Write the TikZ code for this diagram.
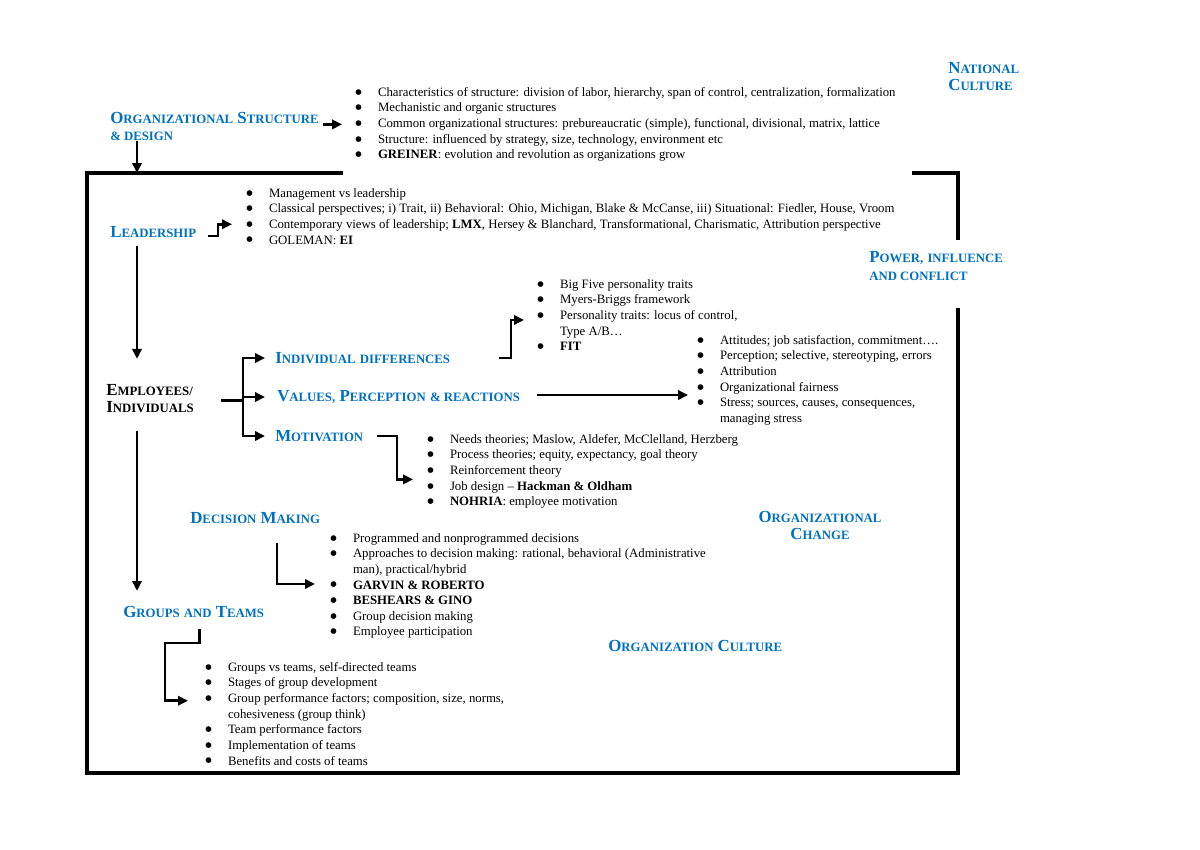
\documentclass[tikz,border=0pt]{standalone}
\usepackage{fontspec}
\setmainfont{Liberation Serif}
\newfontfamily\symfont{DejaVu Sans}
\usepackage{xcolor}
\usetikzlibrary{arrows.meta, calc, positioning}

\definecolor{headblue}{HTML}{0070C0}

% fake small caps for the headings
\newcommand{\hcap}[2]{{\fontsize{11.9}{12}\selectfont #1}{\fontsize{9}{12}\selectfont #2}}
\newcommand{\hsm}[1]{{\fontsize{9}{12}\selectfont #1}}
% bullet lines
\newcommand{\bitem}{\makebox[16pt][l]{\raisebox{1.5pt}{\symfont\fontsize{5.2}{11}\selectfont ●}}}
\newcommand{\bcont}{\hspace*{16pt}}

\begin{document}
\begin{tikzpicture}[
    x=0.02475cm, y=-0.02475cm,
    font=\fontsize{9}{11}\selectfont,
    >={Triangle[length=7pt,width=6.5pt]}
]
    % Styles
    \tikzstyle{heading} = [text=headblue, font=\fontsize{11.9}{12}\selectfont\bfseries, inner sep=0pt, align=left, anchor=west]
    \tikzstyle{bullets} = [inner sep=0pt, align=left, anchor=north west]
    \tikzstyle{link} = [line width=1.8pt]
    \tikzstyle{frame} = [line width=2.2pt]

    \useasboundingbox (0,0) rectangle (1200,849);

    % Headings
    \node [heading] (orgstruct) at (110,126.5) {\hcap{O}{RGANIZATIONAL} \hcap{S}{TRUCTURE}\\\hsm{\& DESIGN}};
    \node [heading] (natcult) at (948,77) {\hcap{N}{ATIONAL}\\\hcap{C}{ULTURE}};
    \node [heading] (leader) at (110,232) {\hcap{L}{EADERSHIP}};
    \node [heading] (power) at (869,266) {\hcap{P}{OWER,} \hsm{INFLUENCE}\\\hsm{AND CONFLICT}};
    \node [heading, text=black] (emp) at (106,398.5) {\hcap{E}{MPLOYEES/}\\\hcap{I}{NDIVIDUALS}};
    \node [heading] (inddiff) at (275,358) {\hcap{I}{NDIVIDUAL} \hsm{DIFFERENCES}};
    \node [heading] (values) at (277,397) {\hcap{V}{ALUES,} \hcap{P}{ERCEPTION} \hsm{\& REACTIONS}};
    \node [heading] (motiv) at (275,436) {\hcap{M}{OTIVATION}};
    \node [heading] (decision) at (190,518) {\hcap{D}{ECISION} \hcap{M}{AKING}};
    \node [heading, align=center, anchor=center] (orgchange) at (820,525.5) {\hcap{O}{RGANIZATIONAL}\\\hcap{C}{HANGE}};
    \node [heading] (groups) at (123,612) {\hcap{G}{ROUPS} \hsm{AND} \hcap{T}{EAMS}};
    \node [heading] (orgcult) at (608,646) {\hcap{O}{RGANIZATION} \hcap{C}{ULTURE}};

    % Bullet lists
    \node [bullets] (listA) at (355,87) {%
        \bitem Characteristics of structure: division of labor, hierarchy, span of control, centralization, formalization\\
        \bitem Mechanistic and organic structures\\
        \bitem Common organizational structures: prebureaucratic (simple), functional, divisional, matrix, lattice\\
        \bitem Structure: influenced by strategy, size, technology, environment etc\\
        \bitem \textbf{GREINER}: evolution and revolution as organizations grow};
    \node [bullets] (listB) at (246,188) {%
        \bitem Management vs leadership\\
        \bitem Classical perspectives; i) Trait, ii) Behavioral: Ohio, Michigan, Blake \& McCanse, iii) Situational: Fiedler, House, Vroom\\
        \bitem Contemporary views of leadership; \textbf{LMX}, Hersey \& Blanchard, Transformational, Charismatic, Attribution perspective\\
        \bitem GOLEMAN: \textbf{EI}};
    \node [bullets] (listC) at (537,279) {%
        \bitem Big Five personality traits\\
        \bitem Myers-Briggs framework\\
        \bitem Personality traits: locus of control,\\
        \bcont Type A/B\ldots\\
        \bitem \textbf{FIT}};
    \node [bullets] (listD) at (697,335) {%
        \bitem Attitudes; job satisfaction, commitment\ldots.\\
        \bitem Perception; selective, stereotyping, errors\\
        \bitem Attribution\\
        \bitem Organizational fairness\\
        \bitem Stress; sources, causes, consequences,\\
        \bcont managing stress};
    \node [bullets] (listE) at (427,434) {%
        \bitem Needs theories; Maslow, Aldefer, McClelland, Herzberg\\
        \bitem Process theories; equity, expectancy, goal theory\\
        \bitem Reinforcement theory\\
        \bitem Job design -- \textbf{Hackman \& Oldham}\\
        \bitem \textbf{NOHRIA}: employee motivation};
    \node [bullets] (listF) at (330,533) {%
        \bitem Programmed and nonprogrammed decisions\\
        \bitem Approaches to decision making: rational, behavioral (Administrative\\
        \bcont man), practical/hybrid\\
        \bitem \textbf{GARVIN \& ROBERTO}\\
        \bitem \textbf{BESHEARS \& GINO}\\
        \bitem Group decision making\\
        \bitem Employee participation};
    \node [bullets] (listG) at (205,662) {%
        \bitem Groups vs teams, self-directed teams\\
        \bitem Stages of group development\\
        \bitem Group performance factors; composition, size, norms,\\
        \bcont cohesiveness (group think)\\
        \bitem Team performance factors\\
        \bitem Implementation of teams\\
        \bitem Benefits and costs of teams};

    % Frame
    \coordinate (spine) at (137,173);
    \draw [frame] (343,173) -- (87,173) -- (87,773) -- (958,773) -- (958,308);
    \draw [frame] (912,173) -- (958,173) -- (958,240);

    % Connections
    \draw [link,->] ($(orgstruct.east |- listA.west)+(4,0)$) -- ($(listA.west)+(-13,0)$);
    \draw [link,->] (orgstruct.south -| spine) -- (spine);
    \draw [link,->] ($(leader.east)+(12,4)$) -| ($(listB.west)+(-28,8)$) -- ($(listB.west)+(-14,8)$);
    \draw [link,->] ($(leader.south -| spine)+(0,8)$) -- ++(0,113);
    \draw [link,->] ($(emp.south -| spine)+(0,18)$) -- ++(0,160);

    % Employees fork
    \coordinate (fork) at ($(emp.east)+(49,2)$);
    \draw [link] ($(emp.east)+(27,2)$) -- (fork);
    \draw [link,->] (fork) |- ($(inddiff.west)+(-10,0)$);
    \draw [link,->] (fork) |- ($(values.west)+(-12,0)$);
    \draw [link,->] (fork) |- ($(motiv.west)+(-10,0)$);

    \draw [link,->] ($(inddiff.east)+(49,0)$) -| ($(listC.west)+(-26,5)$) -- ($(listC.west)+(-13,5)$);
    \draw [link,->] ($(values.east)+(17,-2)$) -- ($(listD.west |- values.east)+(-9,-2)$);
    \draw [link,->] ($(motiv.east)+(14,0)$) -| ($(listE.west)+(-30,8)$) -- ($(listE.west)+(-14,8)$);
    \draw [link,->] ($(decision.south)+(22,19)$) |- ($(listF.west)+(-15,-2)$);
    \draw [link,->] ($(groups.south)+(6,11)$) -- ++(0,14) -| ($(listG.west)+(-40,-13)$) -- ($(listG.west)+(-17,-13)$);

\end{tikzpicture}
\end{document}
